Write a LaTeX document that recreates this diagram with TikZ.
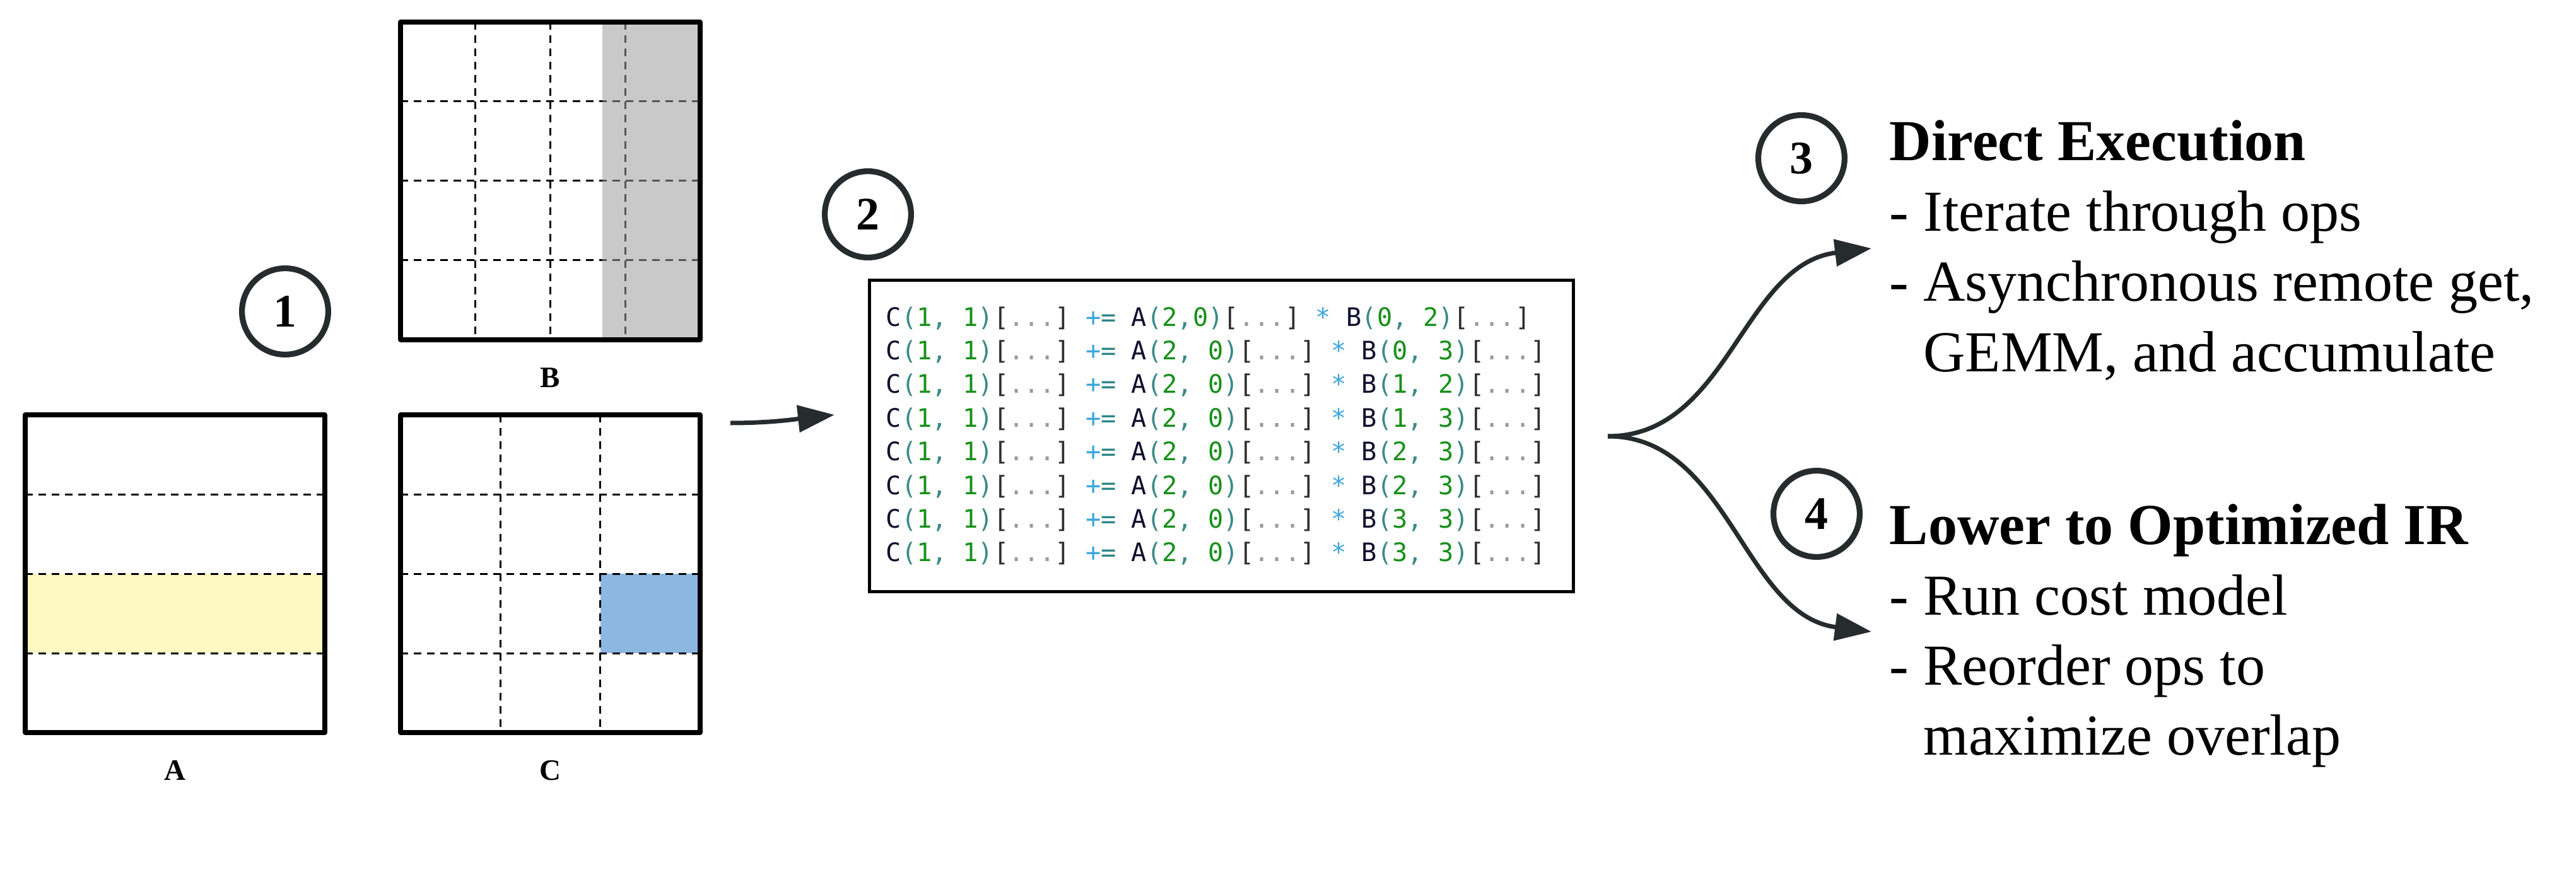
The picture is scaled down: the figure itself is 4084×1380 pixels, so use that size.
\documentclass[tikz,border=0pt]{standalone}
\usepackage{fontspec}
\setmainfont{Liberation Serif}
\newfontfamily\codefont{DejaVu Sans Mono}
\usetikzlibrary{arrows.meta}
\definecolor{ink}{HTML}{262C2E}
\definecolor{hlyellow}{HTML}{FEF8C3}
\definecolor{hlblue}{HTML}{8CB7E1}
\definecolor{hlgray}{HTML}{9C9C9C}
\definecolor{cnm}{HTML}{10102E}
\definecolor{cpn}{HTML}{3C8A88}
\definecolor{cnu}{HTML}{17901A}
\definecolor{cbr}{HTML}{2E2E2E}
\definecolor{cdt}{HTML}{9A9A9A}
\definecolor{cpl}{HTML}{3FA6DC}
\definecolor{ceq}{HTML}{2F8686}
\newcommand\kw[2]{{\color{#1}#2}}
\newcommand\ixs[2]{\kw{cpn}{(}\kw{cnu}{#1}\kw{cpn}{,}\space\kw{cnu}{#2}\kw{cpn}{)}}
\newcommand\ixn[2]{\kw{cpn}{(}\kw{cnu}{#1}\kw{cpn}{,}\kw{cnu}{#2}\kw{cpn}{)}}
\newcommand\dts{\kw{cbr}{[}\kw{cdt}{...}\kw{cbr}{]}}
\newcommand\pe{\kw{cpl}{+}\kw{ceq}{=}}
\newcommand\mulop{\kw{cpl}{*}}
\newcommand\opline[2]{\kw{cnm}{C}\ixs{1}{1}\dts\space\pe\space\kw{cnm}{A}\ixs{2}{0}\dts\space\mulop\space\kw{cnm}{B}\ixs{#1}{#2}\dts}
\begin{document}
\begin{tikzpicture}[x=0.25pt,y=-0.25pt,
  mat/.style={draw=black,line width=1.8pt,line join=round,rectangle,inner sep=0pt,minimum width=118.75pt,minimum height=126pt},
  gridln/.style={draw=black,line width=0.75pt,dash pattern=on 3pt off 2.25pt},
  num/.style={circle,draw=ink,line width=2.3pt,minimum size=34.2pt,inner sep=0pt,font=\fontsize{18.5}{20}\selectfont\bfseries},
  lbl/.style={anchor=base,inner sep=0pt,font=\fontsize{11.75}{13}\selectfont\bfseries},
  conn/.style={draw=ink,line width=1.75pt,-{Triangle[length=14.5pt,width=10.5pt]}},
  codebox/.style={draw=black,line width=1.25pt,rectangle,inner sep=0pt,minimum width=279pt,minimum height=123.25pt},
  codeln/.style={anchor=base west,inner sep=0pt,font=\fontsize{10.1}{12}\codefont\frenchspacing},
  ttl/.style={anchor=base west,inner sep=0pt,font=\fontsize{23}{27.75}\selectfont\bfseries},
  txt/.style={anchor=base west,inner sep=0pt,font=\fontsize{23}{27.75}\selectfont}]
\useasboundingbox (0,0) rectangle (4084,1380);
\fill[white] (0,0) rectangle (4084,1380);

% ---- matrix A
\fill[hlyellow] (40,910) rectangle (515,1036);
\foreach \yy in {784,910,1036} \draw[gridln] (40,\yy) -- (515,\yy);
\node[mat] (matA) at (277.5,910) {};
\node[lbl] (labA) at (277.5,1237) {A};

% ---- matrix B
\foreach \xx in {753.75,872.5,991.25} \draw[gridln] (\xx,35) -- (\xx,539);
\foreach \yy in {161,287,413} \draw[gridln] (635,\yy) -- (1110,\yy);
\fill[hlgray,opacity=0.545] (955,35) rectangle (1110,539);
\node[mat] (matB) at (872.5,287) {};
\node[lbl] (labB) at (872.5,614) {B};

% ---- matrix C
\fill[hlblue] (952,910) rectangle (1110,1036);
\foreach \xx in {793.3,951.7} \draw[gridln] (\xx,658) -- (\xx,1162);
\foreach \yy in {784,910,1036} \draw[gridln] (635,\yy) -- (1110,\yy);
\node[mat] (matC) at (872.5,910) {};
\node[lbl] (labC) at (872.5,1237) {C};

% ---- numbered circles
\node[num] (n1) at (452,494) {1};
\node[num] (n2) at (1376,340) {2};
\node[num] (n3) at (2856,251) {3};
\node[num] (n4) at (2880,815) {4};

% ---- code box
\node[codebox] (code) at (1936,691.5) {};
\node[codeln] (l1) at (1404,517) {\kw{cnm}{C}\ixs{1}{1}\dts\space\pe\space\kw{cnm}{A}\ixn{2}{0}\dts\space\mulop\space\kw{cnm}{B}\ixs{0}{2}\dts};
\node[codeln] (l2) at (1404,570.4) {\opline{0}{3}};
\node[codeln] (l3) at (1404,623.8) {\opline{1}{2}};
\node[codeln] (l4) at (1404,677.2) {\opline{1}{3}};
\node[codeln] (l5) at (1404,730.6) {\opline{2}{3}};
\node[codeln] (l6) at (1404,784) {\opline{2}{3}};
\node[codeln] (l7) at (1404,837.4) {\opline{3}{3}};
\node[codeln] (l8) at (1404,890.8) {\opline{3}{3}};

% ---- right-hand text
\node[ttl] (t3) at (2995,255) {Direct Execution};
\node[txt] (t3a) at (2995,367) {- Iterate through ops};
\node[txt] (t3b) at (2995,478) {- Asynchronous remote get,};
\node[txt] (t3c) at (2995,589) {\hphantom{- }GEMM, and accumulate};
\node[ttl] (t4) at (2995,863) {Lower to Optimized IR};
\node[txt] (t4a) at (2995,975) {- Run cost model};
\node[txt] (t4b) at (2995,1086) {- Reorder ops to};
\node[txt] (t4c) at (2995,1197) {\hphantom{- }maximize overlap};

% ---- connectors
\coordinate (a1s) at (1158,671);
\coordinate (a1e) at (1323,658);
\draw[conn] (a1s) .. controls (1225,671) and (1268,664) .. (a1e);
\coordinate (fork) at (2549,692);
\coordinate (e3) at (2967,394);
\coordinate (e4) at (2967,1002);
\draw[conn] (fork) .. controls (2740,692) and (2762,419) .. (e3);
\draw[conn] (fork) .. controls (2740,692) and (2764,976) .. (e4);
\end{tikzpicture}
\end{document}
